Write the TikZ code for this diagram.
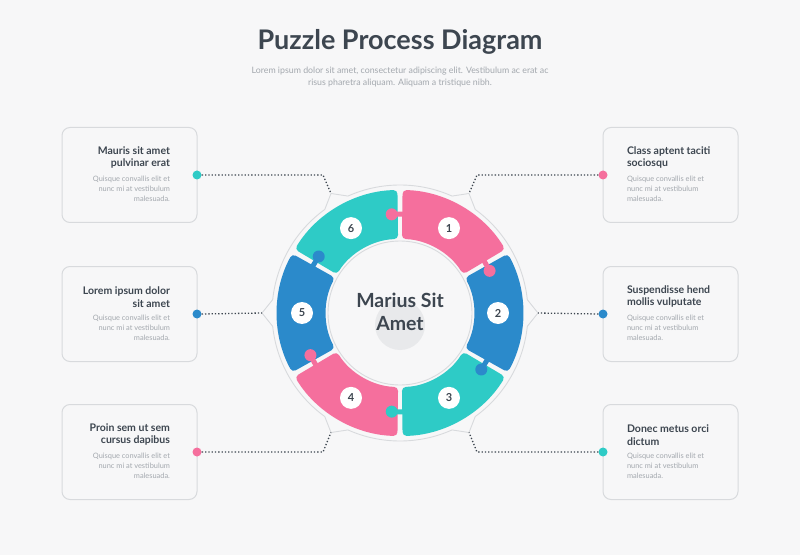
\documentclass[tikz,border=0pt]{standalone}
\usepackage{fontspec}
\setmainfont{Lato}
\usetikzlibrary{calc}
\definecolor{bg}{HTML}{F7F7F8}
\definecolor{pinkc}{HTML}{F56F9D}
\definecolor{tealc}{HTML}{2ECBC6}
\definecolor{bluec}{HTML}{2B8ACB}
\definecolor{darkc}{HTML}{3D4650}
\definecolor{grayc}{HTML}{A3A8AE}
\definecolor{linec}{HTML}{D8DADD}
\begin{document}
\begin{tikzpicture}[x=1pt,y=1pt,
  box/.style={draw=linec,line width=1pt,rounded corners=8pt,fill=bg,minimum width=135pt,minimum height=95pt},
  hd/.style={font=\bfseries\fontsize{10.5}{12.5}\selectfont,text=darkc},
  bd/.style={font=\fontsize{7.4}{10}\selectfont,text=grayc},
  dotc/.style={circle,inner sep=0pt,minimum size=9pt},
  conn/.style={dotted,line width=1.3pt,darkc},
  num/.style={circle,fill=white,minimum size=22pt,inner sep=0pt,font=\bfseries\fontsize{11}{12}\selectfont,text=darkc}]
\fill[bg] (0,0) rectangle (800,555);
\useasboundingbox (0,0) rectangle (800,555);
\node[font=\bfseries\fontsize{27}{30}\selectfont,text=darkc] (title) at (400,513) {Puzzle Process Diagram};
\node[font=\fontsize{8.8}{12}\selectfont,text=grayc,align=center] (sub) at (400,478) {Lorem ipsum dolor sit amet, consectetur adipiscing elit. Vestibulum ac erat ac\\risus pharetra aliquam. Aliquam a tristique nibh.};
\coordinate (c) at (400,242);
\begin{scope}[shift={(c)}]
\draw[linec,line width=0.9pt,fill=bg]
 (0:138) -- (6:128) arc (6:54:128) -- (60:138) -- (66:128) arc (66:114:128) -- (120:138) -- (126:128) arc (126:174:128)
 -- (180:138) -- (186:128) arc (186:234:128) -- (240:138) -- (246:128) arc (246:294:128) -- (300:138) -- (306:128) arc (306:354:128) -- cycle;
\foreach \s/\e/\col in {30/90/pinkc,-30/30/bluec,-90/-30/tealc,-150/-90/pinkc,150/210/bluec,90/150/tealc}{
  \fill[\col,rounded corners=4pt] (\s+1.2:123) arc (\s+1.2:\e-1.2:123) -- (\e-1.5:74) arc (\e-1.5:\s+1.5:74) -- cycle;
}
\foreach \b/\d/\col in {90/4/pinkc,30/-4/pinkc,-30/-4/bluec,-90/-4/tealc,-150/-4/pinkc,150/-4/bluec}{
  \draw[\col,line width=5pt] (\b-\d*0.5:99) -- (\b+\d:99);
  \fill[\col] (\b+\d*1.2:99) circle (6);
}
\draw[linec,line width=0.9pt,fill=bg] (0,0) circle (72);
\fill[linec!60] (0,-12) circle (25);
\end{scope}
\node[font=\bfseries\fontsize{19.5}{23}\selectfont,text=darkc,align=center] (ctr) at (400,243) {Marius Sit\\Amet};
\foreach \n/\a in {1/60,2/0,3/-60,4/-120,5/180,6/120}{
  \node[num] (n\n) at ($(c)+(\a:98)$) {\n};
}
\foreach \i/\x/\y/\h/\col in {L1/129.5/380/{Mauris sit amet\\pulvinar erat}/tealc,L2/129.5/241/{Lorem ipsum dolor\\sit amet}/bluec,L3/129.5/103/{Proin sem ut sem\\cursus dapibus}/pinkc}{
  \node[box] (\i) at (\x,\y) {};
  \node[hd,align=right,anchor=south east] (\i h) at (\x+44,\y+3) {\h};
  \node[bd,align=right,anchor=north east] (\i b) at (\x+44,\y+2) {Quisque convallis elit et\\nunc mi at vestibulum\\malesuada.};
  \node[dotc,fill=\col] (\i d) at (\x+67.5,\y) {};
}
\foreach \i/\x/\y/\h/\col in {R1/670.5/380/{Class aptent taciti\\sociosqu}/pinkc,R2/670.5/241/{Suspendisse hend\\mollis vulputate}/bluec,R3/670.5/103/{Donec metus orci\\dictum}/tealc}{
  \node[box] (\i) at (\x,\y) {};
  \node[hd,align=left,anchor=south west] (\i h) at (\x-47,\y+3) {\h};
  \node[bd,align=left,anchor=north west] (\i b) at (\x-47,\y+2) {Quisque convallis elit et\\nunc mi at vestibulum\\malesuada.};
  \node[dotc,fill=\col] (\i d) at (\x-67.5,\y) {};
}
\coordinate (pL1) at ($(c)+(120:138)$);
\coordinate (pR1) at ($(c)+(60:138)$);
\coordinate (pL2) at ($(c)+(180:138)$);
\coordinate (pR2) at ($(c)+(0:138)$);
\coordinate (pL3) at ($(c)+(240:138)$);
\coordinate (pR3) at ($(c)+(300:138)$);
\draw[conn] (L1d.east) -- (323,380) -- (pL1);
\draw[conn] (R1d.west) -- (477,380) -- (pR1);
\draw[conn] (L2d.east) -- (pL2);
\draw[conn] (R2d.west) -- (pR2);
\draw[conn] (L3d.east) -- (323,103) -- (pL3);
\draw[conn] (R3d.west) -- (477,103) -- (pR3);
\end{tikzpicture}
\end{document}
